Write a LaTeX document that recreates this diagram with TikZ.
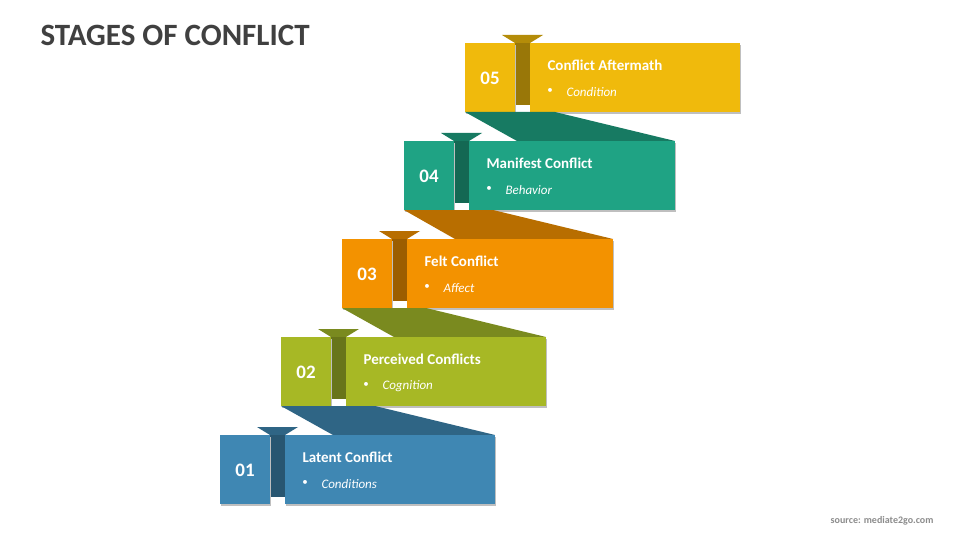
\documentclass[tikz,border=0pt]{standalone}
\usepackage{fontspec}
\setmainfont{Carlito}
\begin{document}
\begin{tikzpicture}[x=1pt,y=-1pt,
  num/.style={text=white,font=\bfseries\fontsize{19}{19}\selectfont,anchor=center},
  ttl/.style={text=white,font=\bfseries\fontsize{15}{15}\selectfont,anchor=west},
  sub/.style={text=white,font=\itshape\fontsize{13}{13}\selectfont,anchor=west}]
\fill[white] (0,0) rectangle (960,540);
\useasboundingbox (0,0) rectangle (960,540);
\node[anchor=west,text=black!75,font=\bfseries\fontsize{31}{31}\selectfont] (title) at (37,35) {STAGES OF CONFLICT};
\node[anchor=east,text=black!45,font=\bfseries\fontsize{10}{10}\selectfont] (src) at (937,521) {source: mediate2go.com};
\definecolor{c1}{HTML}{3F87B3}\definecolor{d1}{HTML}{2F6585}
\definecolor{c2}{HTML}{A7B825}\definecolor{d2}{HTML}{7A8A1F}
\definecolor{c3}{HTML}{F39200}\definecolor{d3}{HTML}{B86E00}
\definecolor{c4}{HTML}{1FA384}\definecolor{d4}{HTML}{177A62}
\definecolor{c5}{HTML}{F0BA0C}\definecolor{d5}{HTML}{B48C09}
% draw from top (5) to bottom (1) so lower steps cover upper parallelograms' bottoms correctly
\foreach \i/\L/\T/\R/\nL/\nT/\n/\t/\s in {
  5/465/43/740/0/0/05/Conflict Aftermath/Condition,
  4/404/141/675/465/43/04/Manifest Conflict/Behavior,
  3/342/239/613/404/141/03/Felt Conflict/Affect,
  2/281/337/546/342/239/02/Perceived Conflicts/Cognition,
  1/220/435/495/281/337/01/Latent Conflict/Conditions}{
  \ifnum\i<5
    \fill[d\i] (\nL,\nT+69) -- (\R-120,\nT+69) -- (\R,\T) -- (\L+113,\T) -- cycle;
  \fi
  \fill[d\i] (\L+37,\T-8) -- (\L+78,\T-8) -- (\L+65,\T) -- (\L+50,\T) -- cycle;
  \fill[d\i!85!black] (\L+50,\T) rectangle (\L+65,\T+62);
  \fill[black!25] (\L+1,\T+2) rectangle (\L+51,\T+71);
  \fill[black!25] (\L+66,\T+2) rectangle (\R+1,\T+71);
  \fill[c\i] (\L,\T) rectangle (\L+50,\T+69);
  \fill[c\i] (\L+65,\T) rectangle (\R,\T+69);
  \node[num] (n\i) at (\L+25,\T+35) {\n};
  \node[ttl] (t\i) at (\L+79,\T+22) {\t};
  \node[text=white,font=\fontsize{11}{11}\selectfont] (b\i) at (\L+85,\T+48) {•};
  \node[sub] (s\i) at (\L+98,\T+49) {\s};
}
\end{tikzpicture}
\end{document}
